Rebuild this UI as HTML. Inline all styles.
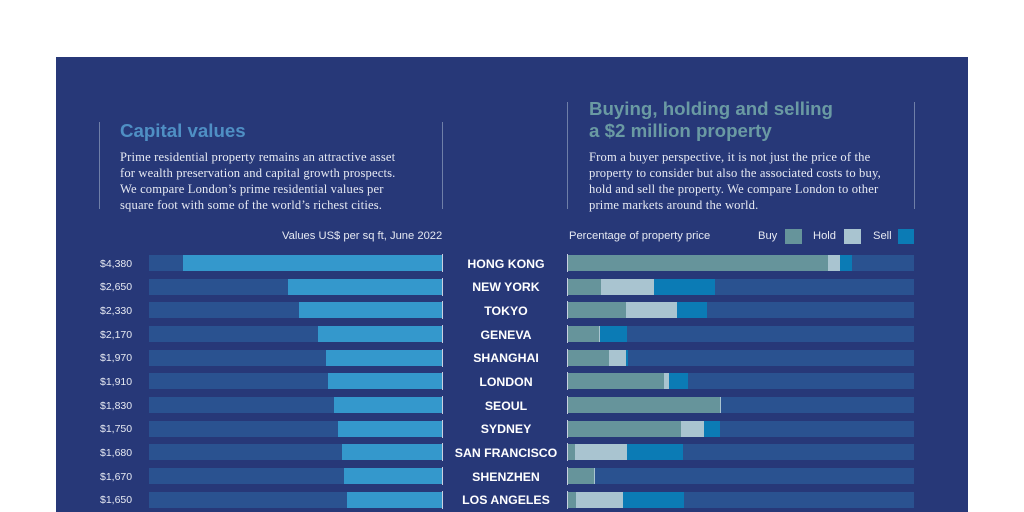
<!DOCTYPE html>
<html><head><meta charset="utf-8"><style>
body{margin:0;width:1024px;height:512px;background:#fff;position:relative;overflow:hidden;font-family:"Liberation Sans",sans-serif}
#p{position:absolute;left:56px;top:57px;width:912px;height:455px;background:#273878}
.a{position:absolute}
.vl{position:absolute;width:1px;background:#6f7fa8}
h2{position:absolute;margin:0;font-weight:bold;font-size:18.7px;line-height:22px;color:#4f8fc4;white-space:nowrap}
.t{position:absolute;font-family:"Liberation Serif",serif;font-size:12.6px;letter-spacing:0.15px;line-height:16px;color:#e6e9f2;white-space:nowrap}
.s{position:absolute;font-size:10.5px;color:#e6e9f2;white-space:nowrap}
.l{font-size:11.2px}
.bg{position:absolute;height:16px;background:#2a5290}
.c{position:absolute;width:120px;left:446px;text-align:center;font-weight:bold;font-size:12.3px;color:#fff;white-space:nowrap}
</style></head><body>
<div id="p"></div>
<div class="vl" style="left:99px;top:122px;height:87px"></div>
<div class="vl" style="left:442px;top:122px;height:87px"></div>
<div class="vl" style="left:567px;top:102px;height:107px"></div>
<div class="vl" style="left:914px;top:102px;height:107px"></div>
<h2 style="left:120px;top:120px">Capital values</h2>
<div class="t" style="left:120px;top:149px">Prime residential property remains an attractive asset<br>for wealth preservation and capital growth prospects.<br>We compare London’s prime residential values per<br>square foot with some of the world’s richest cities.</div>
<h2 style="left:589px;top:98px;color:#6a9aa3">Buying, holding and selling<br>a $2 million property</h2>
<div class="t" style="left:589px;top:149px">From a buyer perspective, it is not just the price of the<br>property to consider but also the associated costs to buy,<br>hold and sell the property. We compare London to other<br>prime markets around the world.</div>
<div class="s l" style="left:282px;top:230px">Values US$ per sq ft, June 2022</div>
<div class="s l" style="left:569px;top:230px">Percentage of property price</div>
<div class="s l" style="left:758px;top:230px">Buy</div><div class="a" style="left:785px;top:229px;width:17px;height:15px;background:#66949b"></div>
<div class="s l" style="left:813px;top:230px">Hold</div><div class="a" style="left:844px;top:229px;width:17px;height:15px;background:#a9c4d0"></div>
<div class="s l" style="left:873px;top:230px">Sell</div><div class="a" style="left:898px;top:229px;width:16px;height:15px;background:#0b7bb5"></div>
<div id="rows"></div>
<script>
var d=[["$4,380","HONG KONG",183,828,839.7,852.3],["$2,650","NEW YORK",287.7,600.7,654.3,714.7],["$2,330","TOKYO",299,626,677.3,707],["$2,170","GENEVA",317.7,599.3,600.3,627],["$1,970","SHANGHAI",326,608.7,626,628],["$1,910","LONDON",328,664,669,688],["$1,830","SEOUL",334,719.7,721,721],["$1,750","SYDNEY",338.3,681,704,720],["$1,680","SAN FRANCISCO",342.3,575,627,683],["$1,670","SHENZHEN",344,594,594.7,594.7],["$1,650","LOS ANGELES",346.7,576,623,684]];
var h="";
d.forEach(function(r,i){var y=255+i*23.67;
h+='<div class="s" style="left:100px;top:'+(y+2.5)+'px">'+r[0]+'</div>';
h+='<div class="bg" style="left:149px;top:'+y+'px;width:293px"></div>';
h+='<div class="a" style="left:'+r[2]+'px;top:'+y+'px;height:16px;width:'+(442-r[2])+'px;background:#3498cc"></div>';
h+='<div class="a" style="left:442px;top:'+(y-1)+'px;height:18px;width:1px;background:#c8d0e0"></div>';
h+='<div class="c" style="top:'+(y+1.5)+'px">'+r[1]+'</div>';
h+='<div class="bg" style="left:568px;top:'+y+'px;width:346px"></div>';
h+='<div class="a" style="left:568px;top:'+y+'px;height:16px;width:'+(r[3]-568)+'px;background:#66949b"></div>';
h+='<div class="a" style="left:'+r[3]+'px;top:'+y+'px;height:16px;width:'+(r[4]-r[3])+'px;background:#a9c4d0"></div>';
h+='<div class="a" style="left:'+r[4]+'px;top:'+y+'px;height:16px;width:'+(r[5]-r[4])+'px;background:#0b7bb5"></div>';
h+='<div class="a" style="left:567px;top:'+(y-1)+'px;height:18px;width:1px;background:#c8d0e0"></div>';
});
document.getElementById("rows").innerHTML=h;
</script>
</body></html>
